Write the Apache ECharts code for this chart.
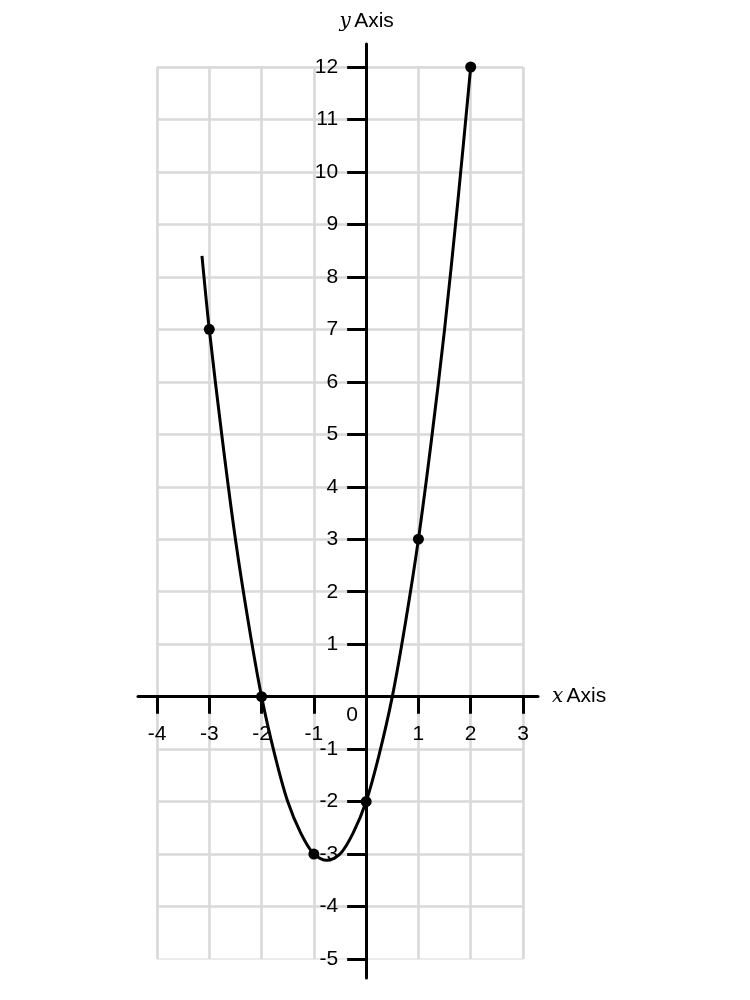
<!DOCTYPE html>
<html>
<head>
<meta charset="utf-8">
<script src="https://cdn.jsdelivr.net/npm/echarts@6/dist/echarts.min.js"></script>
<style>
html,body{margin:0;padding:0;background:#fff;}
#chart{width:750px;height:1000px;}
</style>
</head>
<body>
<div id="chart"></div>
<script>
// Data
const curveX = [-3.14, -3, -2.75, -2.5, -2.25, -2, -1.75, -1.5, -1.25, -1, -0.75, -0.5, -0.25, 0, 0.25, 0.5, 0.75, 1, 1.25, 1.5, 1.75, 2];
const curveY = [8.4, 7, 4.9, 3, 1.4, 0, -1.1, -2, -2.6, -3, -3.12, -3, -2.6, -2, -1.1, 0, 1.4, 3, 4.9, 7, 9.4, 12];
const pointX = [-3, -2, -1, 0, 1, 2];
const pointY = [7, 0, -3, -2, 3, 12];
const xMin = -4, xMax = 3;
const yMin = -5, yMax = 12;
const xAxisName = 'x';
const yAxisName = 'y';
const originLabel = '0';

const FONT = 'Liberation Sans, Arial, Helvetica, sans-serif';
const GRID_COLOR = '#d9d9d9';

// plot area layout
const G = {left: 157, right: 227, top: 67, bottom: 41};
const plotW = 750 - G.left - G.right;
const plotH = 1000 - G.top - G.bottom;
// shift the tick/label axes so they sit on the zero lines
const yAxisOffset = -((0 - xMin) / (xMax - xMin)) * plotW;
const xAxisOffset = -((0 - yMin) / (yMax - yMin)) * plotH;

const curveData = curveX.map((x, i) => [x, curveY[i]]);
const pointData = pointX.map((x, i) => [x, pointY[i]]);

const chart = echarts.init(document.getElementById('chart'), null, {renderer: 'canvas'});

const nameRich = {
  i: {fontFamily: 'DejaVu Serif, Liberation Serif, serif', fontStyle: 'italic', fontSize: 20, color: '#000'},
  t: {fontFamily: FONT, fontSize: 21, color: '#000'}
};

const option = {
  animation: false,
  backgroundColor: '#fff',
  grid: [
    {left: G.left, right: G.right, top: G.top, bottom: G.bottom, show: true, borderColor: GRID_COLOR, borderWidth: 1, backgroundColor: 'transparent'},
    {left: 138, right: 212, top: 44, bottom: 22}
  ],
  xAxis: [
    {
      type: 'value', gridIndex: 0, min: xMin, max: xMax, interval: 1,
      position: 'bottom', offset: xAxisOffset,
      axisLine: {show: false, onZero: false},
      axisTick: {show: true, length: 17, lineStyle: {color: '#000', width: 3}},
      axisLabel: {
        show: true, margin: 27, color: '#000', fontSize: 21, fontFamily: FONT,
        formatter: v => (v === 0 ? '' : String(v))
      },
      splitLine: {show: true, lineStyle: {color: GRID_COLOR, width: 2.6}}
    },
    {
      type: 'value', gridIndex: 1, min: -4.363, max: 3.268,
      axisLine: {show: true, onZero: true, lineStyle: {color: '#000', width: 3}},
      axisTick: {show: false}, axisLabel: {show: false}, splitLine: {show: false},
      name: '{i|' + xAxisName + '} {t|Axis}', nameLocation: 'end', nameGap: 14,
      nameTextStyle: {rich: nameRich, verticalAlign: 'middle'}
    }
  ],
  yAxis: [
    {
      type: 'value', gridIndex: 0, min: yMin, max: yMax, interval: 1,
      position: 'left', offset: yAxisOffset,
      axisLine: {show: false, onZero: false},
      axisTick: {show: true, length: 19, lineStyle: {color: '#000', width: 3}},
      axisLabel: {
        show: true, margin: 28, color: '#000', fontSize: 21, fontFamily: FONT,
        formatter: v => (v === 0 ? '' : String(v))
      },
      splitLine: {show: true, showMinLine: false, lineStyle: {color: GRID_COLOR, width: 2.6}}
    },
    {
      type: 'value', gridIndex: 1, min: -5.362, max: 12.438,
      axisLine: {show: true, onZero: true, lineStyle: {color: '#000', width: 3}},
      axisTick: {show: false}, axisLabel: {show: false}, splitLine: {show: false},
      name: '{i|' + yAxisName + '} {t|Axis}', nameLocation: 'end', nameGap: 12,
      nameTextStyle: {rich: nameRich}
    }
  ],
  series: [
    {
      type: 'line', xAxisIndex: 0, yAxisIndex: 0,
      data: curveData, smooth: 0.3, showSymbol: false, symbol: 'none', clip: false,
      lineStyle: {color: '#000', width: 3}, z: 5
    },
    {
      type: 'scatter', xAxisIndex: 0, yAxisIndex: 0,
      data: pointData, symbol: 'circle', symbolSize: 11, clip: false,
      itemStyle: {color: '#000', opacity: 1}, z: 6
    },
    {
      type: 'scatter', xAxisIndex: 0, yAxisIndex: 0,
      data: [[0, 0]], symbolSize: 0, clip: false, silent: true,
      itemStyle: {opacity: 1},
      label: {
        show: true, position: 'inside', offset: [-14, 19], formatter: originLabel,
        color: '#000', opacity: 1, fontSize: 21, fontFamily: FONT
      },
      z: 7
    }
  ]
};
chart.setOption(option);
</script>
</body>
</html>
